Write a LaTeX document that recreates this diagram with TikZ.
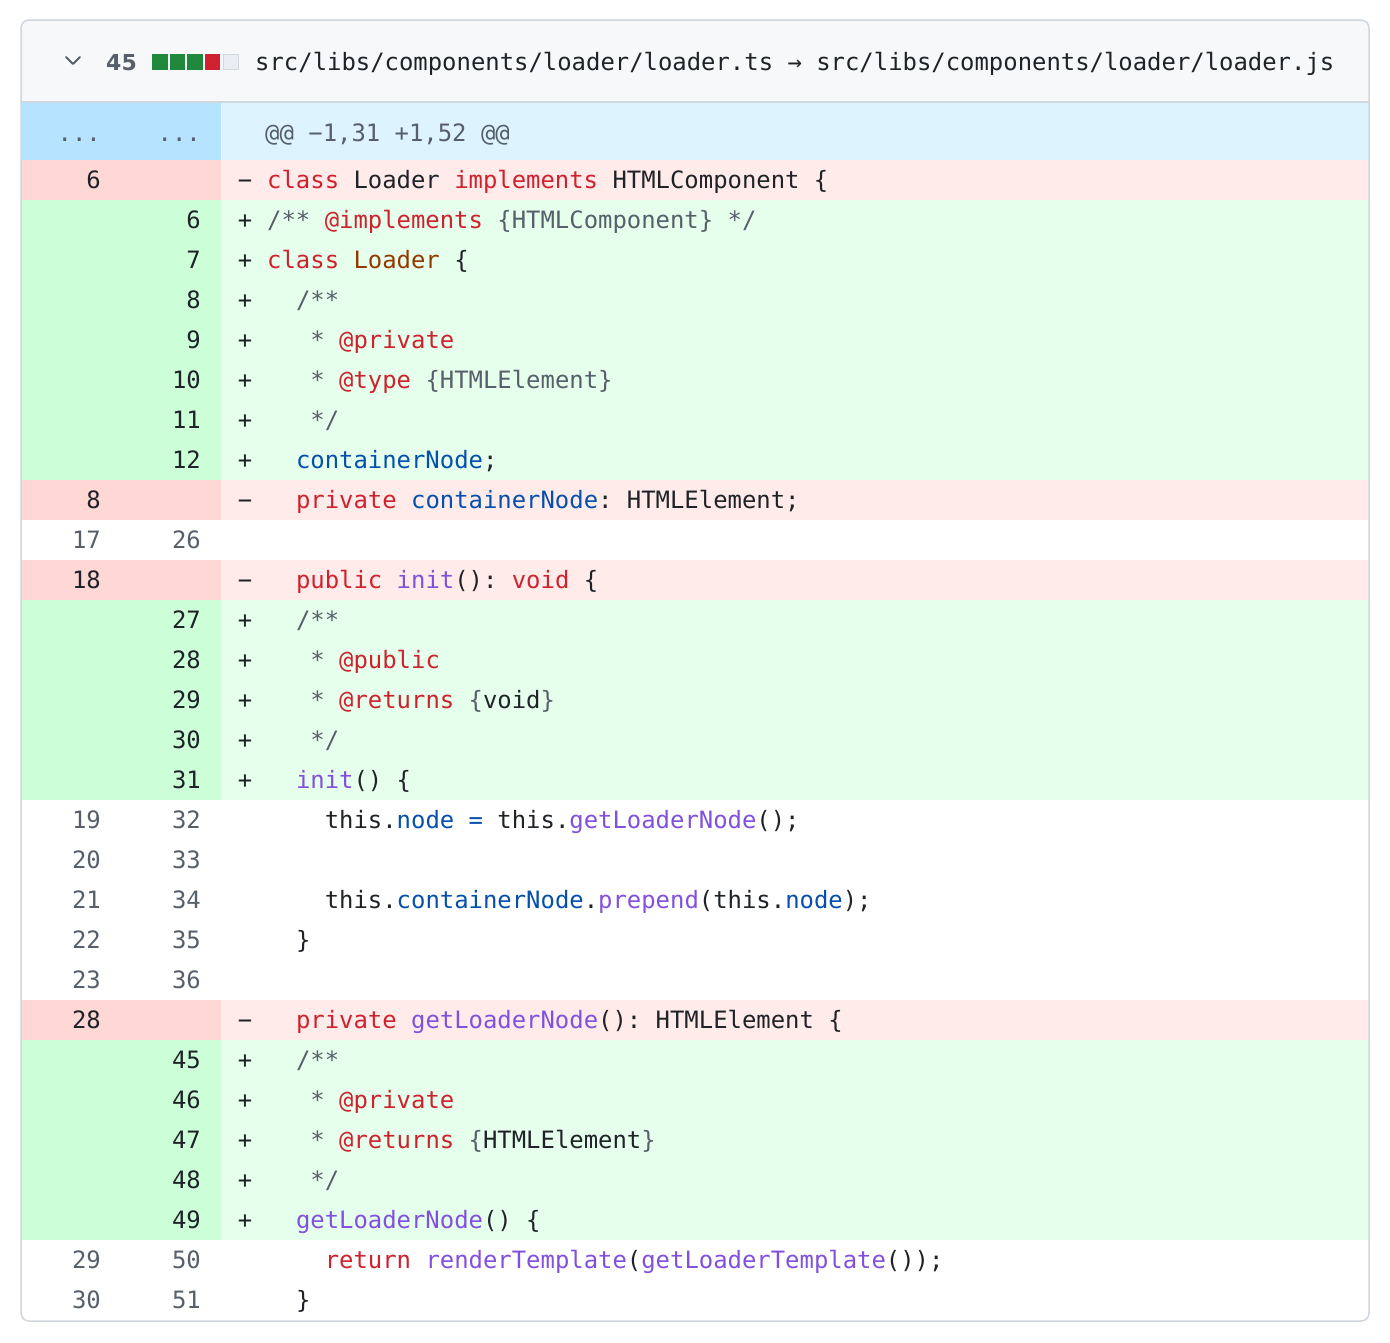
\documentclass[tikz,border=0pt]{standalone}
\usepackage{fontspec}
\setmonofont{DejaVu Sans Mono}
\setmainfont{DejaVu Sans}
\usetikzlibrary{positioning}

\definecolor{bordergray}{HTML}{D0D7DE}
\definecolor{headbg}{HTML}{F6F8FA}
\definecolor{delbg}{HTML}{FFEBE9}
\definecolor{delnum}{HTML}{FFD7D5}
\definecolor{addbg}{HTML}{E6FFEC}
\definecolor{addnum}{HTML}{CCFFD8}
\definecolor{hunkbg}{HTML}{DDF4FF}
\definecolor{hunknum}{HTML}{B6E3FF}
\definecolor{fgdark}{HTML}{1F2328}
\definecolor{fgmuted}{HTML}{57606A}
\definecolor{synred}{HTML}{CF222E}
\definecolor{synpurple}{HTML}{8250DF}
\definecolor{synblue}{HTML}{0550AE}
\definecolor{synbrown}{HTML}{953800}
\definecolor{bargreen}{HTML}{1F883D}
\definecolor{barred}{HTML}{CF222E}
\definecolor{barempty}{HTML}{EAEEF2}

\newcommand{\kw}[1]{\textcolor{synred}{#1}}
\newcommand{\fn}[1]{\textcolor{synpurple}{#1}}
\newcommand{\pr}[1]{\textcolor{synblue}{#1}}
\newcommand{\cm}[1]{\textcolor{fgmuted}{#1}}
\newcommand{\ty}[1]{\textcolor{synbrown}{#1}}

\tikzset{
  code/.style={anchor=base west, inner sep=0pt, font=\fontsize{23.9}{25}\selectfont\ttfamily, text=fgdark},
  lnum/.style={anchor=base east, inner sep=0pt, font=\fontsize{23.9}{25}\selectfont\ttfamily},
  sign/.style={anchor=base, inner sep=0pt, font=\fontsize{23.9}{25}\selectfont\ttfamily, text=fgdark},
}

% row: index, kind (d/a/c), old, new, sign, indent, code
\newcommand{\diffrow}[7]{%
  \pgfmathsetmacro{\rtop}{160+40*#1}%
  \ifx#2d
    \fill[delnum] (21,\rtop) rectangle (221,\rtop+40);
    \fill[delbg] (221,\rtop) rectangle (1369,\rtop+40);
    \def\numcol{fgdark}%
  \else\ifx#2a
    \fill[addnum] (21,\rtop) rectangle (221,\rtop+40);
    \fill[addbg] (221,\rtop) rectangle (1369,\rtop+40);
    \def\numcol{fgdark}%
  \else
    \def\numcol{fgmuted}%
  \fi\fi
  \node[lnum, text=\numcol] (old#1) at (101,\rtop+28) {#3};
  \node[lnum, text=\numcol] (new#1) at (201,\rtop+28) {#4};
  \node[sign] (sg#1) at (245,\rtop+28) {#5};
  \node[code] (cd#1) at (267+14.4*#6,\rtop+28) {#7};
}

\begin{document}
\begin{tikzpicture}[x=1pt,y=-1pt]
  \useasboundingbox (0,0) rectangle (1390,1342);
  \fill[white] (0,0) rectangle (1390,1342);

  \begin{scope}
    \clip[rounded corners=8pt] (21,20) rectangle (1369,1321);
    % header
    \fill[headbg] (21,20) rectangle (1369,102);
    \draw[bordergray, line width=1.5pt] (21,102) -- (1369,102);
    % hunk
    \fill[hunknum] (21,103) rectangle (221,160);
    \fill[hunkbg] (221,103) rectangle (1369,160);
    \node[lnum, text=fgmuted] (hold) at (101,141) {...};
    \node[lnum, text=fgmuted] (hnew) at (201,141) {...};
    \node[code, text=fgmuted] (hunk) at (265,141) {@@ −1,31 +1,52 @@};

    \diffrow{0}{d}{6}{}{−}{0}{\kw{class} Loader \kw{implements} HTMLComponent \{}
    \diffrow{1}{a}{}{6}{+}{0}{\cm{/**} \kw{@implements} \cm{\{HTMLComponent\} */}}
    \diffrow{2}{a}{}{7}{+}{0}{\kw{class} \ty{Loader} \{}
    \diffrow{3}{a}{}{8}{+}{2}{\cm{/**}}
    \diffrow{4}{a}{}{9}{+}{3}{\cm{*} \kw{@private}}
    \diffrow{5}{a}{}{10}{+}{3}{\cm{*} \kw{@type} \cm{\{HTMLElement\}}}
    \diffrow{6}{a}{}{11}{+}{3}{\cm{*/}}
    \diffrow{7}{a}{}{12}{+}{2}{\pr{containerNode};}
    \diffrow{8}{d}{8}{}{−}{2}{\kw{private} \pr{containerNode}: HTMLElement;}
    \diffrow{9}{c}{17}{26}{}{0}{}
    \diffrow{10}{d}{18}{}{−}{2}{\kw{public} \fn{init}(): \kw{void} \{}
    \diffrow{11}{a}{}{27}{+}{2}{\cm{/**}}
    \diffrow{12}{a}{}{28}{+}{3}{\cm{*} \kw{@public}}
    \diffrow{13}{a}{}{29}{+}{3}{\cm{*} \kw{@returns} \cm{\{}void\cm{\}}}
    \diffrow{14}{a}{}{30}{+}{3}{\cm{*/}}
    \diffrow{15}{a}{}{31}{+}{2}{\fn{init}() \{}
    \diffrow{16}{c}{19}{32}{}{4}{this.\pr{node} \pr{=} this.\fn{getLoaderNode}();}
    \diffrow{17}{c}{20}{33}{}{0}{}
    \diffrow{18}{c}{21}{34}{}{4}{this.\pr{containerNode}.\fn{prepend}(this.\pr{node});}
    \diffrow{19}{c}{22}{35}{}{2}{\}}
    \diffrow{20}{c}{23}{36}{}{0}{}
    \diffrow{21}{d}{28}{}{−}{2}{\kw{private} \fn{getLoaderNode}(): HTMLElement \{}
    \diffrow{22}{a}{}{45}{+}{2}{\cm{/**}}
    \diffrow{23}{a}{}{46}{+}{3}{\cm{*} \kw{@private}}
    \diffrow{24}{a}{}{47}{+}{3}{\cm{*} \kw{@returns} \cm{\{}HTMLElement\cm{\}}}
    \diffrow{25}{a}{}{48}{+}{3}{\cm{*/}}
    \diffrow{26}{a}{}{49}{+}{2}{\fn{getLoaderNode}() \{}
    \diffrow{27}{c}{29}{50}{}{4}{\kw{return} \fn{renderTemplate}(\fn{getLoaderTemplate}());}
    \diffrow{28}{c}{30}{51}{}{2}{\}}
  \end{scope}

  % header contents
  \draw[fgmuted, line width=2pt, line cap=round, line join=round] (66,57) -- (73,64) -- (80,57);
  \node[anchor=base west, inner sep=0pt, font=\fontsize{22}{24}\selectfont\bfseries, text=fgmuted] (count) at (106,70) {45};
  \foreach \i/\c in {0/bargreen,1/bargreen,2/bargreen,3/barred} {
    \fill[\c] (152+17.6*\i,54) rectangle (152+17.6*\i+15.6,70);
  }
  \filldraw[fill=barempty, draw=bordergray, line width=1pt] (223,54.5) rectangle (238.5,69.5);
  \node[code] (fname) at (255,70)
    {src/libs/components/loader/loader.ts → src/libs/components/loader/loader.js};

  % frame
  \draw[bordergray, line width=1.5pt, rounded corners=8pt] (21,20) rectangle (1369,1321);
\end{tikzpicture}
\end{document}
